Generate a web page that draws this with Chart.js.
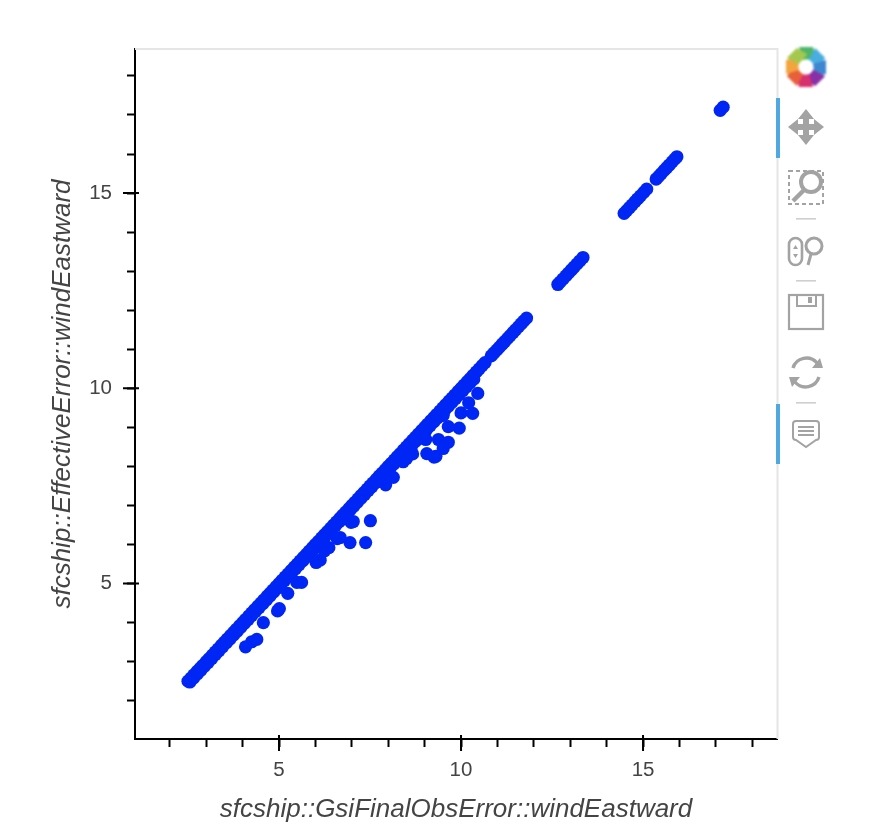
<!DOCTYPE html>
<html><head><meta charset="utf-8">
<style>
html,body{margin:0;padding:0;background:#fff;overflow:hidden}
#wrap{position:relative;width:888px;height:830px}
canvas{position:absolute;left:0;top:0}
#tools{position:absolute;left:0;top:0}
</style>
<script src="https://cdn.jsdelivr.net/npm/chart.js@4"></script>
</head><body>
<div id="wrap">
<canvas id="c" width="888" height="830"></canvas>
<svg id="tools" width="888" height="830" viewBox="0 0 888 830" fill="none">
  <!-- logo -->
  <g transform="translate(806 67)" style="filter:blur(1px)">
    <g transform="rotate(0)"><path d="M-7-20 L7-20 L10-8 L-3-7 Z" fill="#4db56a"/></g>
    <g transform="rotate(45)"><path d="M-7-20 L7-20 L10-8 L-3-7 Z" fill="#49ade0"/></g>
    <g transform="rotate(90)"><path d="M-7-20 L7-20 L10-8 L-3-7 Z" fill="#3e86cf"/></g>
    <g transform="rotate(135)"><path d="M-7-20 L7-20 L10-8 L-3-7 Z" fill="#8a2fa5"/></g>
    <g transform="rotate(180)"><path d="M-7-20 L7-20 L10-8 L-3-7 Z" fill="#d8306e"/></g>
    <g transform="rotate(225)"><path d="M-7-20 L7-20 L10-8 L-3-7 Z" fill="#e8603a"/></g>
    <g transform="rotate(270)"><path d="M-7-20 L7-20 L10-8 L-3-7 Z" fill="#f2a53f"/></g>
    <g transform="rotate(315)"><path d="M-7-20 L7-20 L10-8 L-3-7 Z" fill="#a4c84e"/></g>
    <circle r="7.5" fill="#fff"/>
  </g>
  <!-- active bars -->
  <rect x="776" y="98" width="4" height="60" fill="#4fa9e0"/>
  <rect x="776" y="404" width="4" height="60" fill="#4fa9e0"/>
  <!-- pan -->
  <path fill="#a3a3a3" d="M806 109 L814 119 L809 119 L809 124 L814 124 L814 119 L824 127 L814 135 L814 130 L809 130 L809 135 L814 135 L806 145 L798 135 L803 135 L803 130 L798 130 L798 135 L788 127 L798 119 L798 124 L803 124 L803 119 L798 119 Z"/>
  <!-- box zoom -->
  <rect x="789" y="171" width="34" height="33" stroke="#a3a3a3" stroke-width="2" stroke-dasharray="4 3"/>
  <circle cx="811" cy="182" r="10" stroke="#a3a3a3" stroke-width="4" fill="#fff"/>
  <path d="M804 190 L793 201" stroke="#a3a3a3" stroke-width="4.5"/>
  <rect x="796" y="218" width="20" height="1.6" fill="#cfcfcf"/>
  <!-- wheel zoom -->
  <rect x="789" y="238" width="13" height="27" rx="6.5" stroke="#a3a3a3" stroke-width="2.6"/>
  <path d="M795.5 245 L798 249 L793 249 Z M795.5 258 L798 254 L793 254 Z" fill="#a3a3a3"/>
  <circle cx="814" cy="246" r="8" stroke="#a3a3a3" stroke-width="3"/>
  <path d="M811 254 L808 265" stroke="#a3a3a3" stroke-width="3"/>
  <rect x="796" y="280" width="20" height="1.6" fill="#cfcfcf"/>
  <!-- save -->
  <rect x="789" y="295" width="34" height="34" stroke="#a3a3a3" stroke-width="2.2"/>
  <path d="M797 295 V306 H816 V295" stroke="#a3a3a3" stroke-width="2"/>
  <rect x="808" y="297" width="4" height="6" fill="#a3a3a3"/>
  <!-- reset -->
  <path d="M793 368 A14 14 0 0 1 817 363" stroke="#a3a3a3" stroke-width="3.4"/>
  <path d="M812 368 L823 368 L820 358 Z" fill="#a3a3a3"/>
  <path d="M819 377 A14 14 0 0 1 795 382" stroke="#a3a3a3" stroke-width="3.4"/>
  <path d="M789 377 L800 377 L792 387 Z" fill="#a3a3a3"/>
  <rect x="796" y="402" width="20" height="1.6" fill="#cfcfcf"/>
  <!-- hover -->
  <path d="M796 421 H816 Q819 421 819 424 V437 Q819 440 816 440 L806 447 L796 440 Q793 440 793 437 V424 Q793 421 796 421 Z" stroke="#a3a3a3" stroke-width="2"/>
  <path d="M798 427 H814 M798 431 H814 M798 435 H814" stroke="#a3a3a3" stroke-width="1.8"/>
</svg>
</div>
<script>
const xTickValues = [2,3,4,5,6,7,8,9,10,11,12,13,14,15,16,17,18];
const yTickValues = [2,3,4,5,6,7,8,9,10,11,12,13,14,15,16,17,18];
const labelledTicks = [5,10,15];
const xAxisTitle = "sfcship::GsiFinalObsError::windEastward";
const yAxisTitle = "sfcship::EffectiveError::windEastward";

const lineX = [2.5,2.58,2.66,2.75,2.83,2.9,3.0,3.08,3.17,3.25,3.33,3.42,3.5,3.58,3.67,3.75,3.83,3.92,4.0,4.08,4.17,4.25,4.33,4.42,4.5,4.58,4.67,4.75,4.83,4.92,5.0,5.08,5.17,5.25,5.33,5.42,5.5,5.58,5.67,5.75,5.83,5.92,6.0,6.08,6.17,6.25,6.33,6.42,6.5,6.58,6.67,6.75,6.83,6.92,7.0,7.08,7.17,7.25,7.33,7.42,7.5,7.58,7.67,7.75,7.83,7.92,8.0,8.08,8.17,8.25,8.33,8.42,8.5,8.58,8.67,8.75,8.83,8.92,9.0,9.08,9.17,9.25,9.33,9.42,9.5,9.58,9.67,9.75,9.83,9.92,10.0,10.08,10.17,10.25,10.33,10.42,10.5,10.58,10.66,10.83,10.9,10.98,11.05,11.13,11.2,11.28,11.35,11.43,11.5,11.58,11.65,11.72,11.8,12.66,12.72,12.8,12.88,12.95,13.03,13.1,13.18,13.26,13.35,14.48,14.55,14.63,14.7,14.78,14.85,14.93,15.02,15.1,15.36,15.43,15.5,15.58,15.65,15.72,15.8,15.87,15.93,17.12,17.2];
const lineY = [2.5,2.58,2.66,2.75,2.83,2.9,3.0,3.08,3.17,3.25,3.33,3.42,3.5,3.58,3.67,3.75,3.83,3.92,4.0,4.08,4.17,4.25,4.33,4.42,4.5,4.58,4.67,4.75,4.83,4.92,5.0,5.08,5.17,5.25,5.33,5.42,5.5,5.58,5.67,5.75,5.83,5.92,6.0,6.08,6.17,6.25,6.33,6.42,6.5,6.58,6.67,6.75,6.83,6.92,7.0,7.08,7.17,7.25,7.33,7.42,7.5,7.58,7.67,7.75,7.83,7.92,8.0,8.08,8.17,8.25,8.33,8.42,8.5,8.58,8.67,8.75,8.83,8.92,9.0,9.08,9.17,9.25,9.33,9.42,9.5,9.58,9.67,9.75,9.83,9.92,10.0,10.08,10.17,10.25,10.33,10.42,10.5,10.58,10.66,10.83,10.9,10.98,11.05,11.13,11.2,11.28,11.35,11.43,11.5,11.58,11.65,11.72,11.8,12.66,12.72,12.8,12.88,12.95,13.03,13.1,13.18,13.26,13.35,14.48,14.55,14.63,14.7,14.78,14.85,14.93,15.02,15.1,15.36,15.43,15.5,15.58,15.65,15.72,15.8,15.87,15.93,17.12,17.2];

const belowX = [2.55,2.65,2.75,2.85,2.95,3.05,3.15,3.25,3.35,3.45,3.55,3.65,3.75,3.85,3.95,4.05,4.15,4.25,4.35,4.45,4.55,4.65,4.75,4.85,4.95,5.05,5.15,5.25,5.35,5.45,5.55,5.65,5.75,5.85,5.95,6.05,6.15,6.25,6.35,6.45,6.55,6.65,6.75,6.85,6.95,7.05,7.15,7.25,7.35,7.45,7.55,7.65,7.75,7.85,7.95,8.05,8.15,8.25,8.35,8.45,8.55,8.65,8.75,8.85,8.95,9.05,9.15,9.25,9.35,9.45,9.55,9.65,9.75,9.85,9.95,10.05,10.15,10.25,10.35];
const belowY = [2.48,2.58,2.68,2.78,2.88,2.98,3.08,3.18,3.28,3.38,3.48,3.58,3.68,3.78,3.88,3.98,4.08,4.18,4.28,4.38,4.48,4.58,4.68,4.78,4.88,4.98,5.08,5.18,5.28,5.38,5.48,5.58,5.68,5.78,5.88,5.98,6.08,6.18,6.28,6.38,6.48,6.58,6.68,6.78,6.88,6.98,7.08,7.18,7.28,7.38,7.48,7.58,7.68,7.78,7.88,7.96,8.06,8.15,8.25,8.35,8.44,8.54,8.64,8.74,8.84,8.94,9.04,9.14,9.24,9.34,9.44,9.54,9.64,9.74,9.84,9.94,10.04,10.14,10.24];

const outlierX = [10.46,10.21,10.0,10.32,9.95,9.65,9.51,9.38,9.65,9.51,9.03,9.06,9.31,9.26,8.67,8.41,8.5,8.14,7.93,7.04,6.98,7.51,6.68,6.6,6.95,7.38,6.37,6.25,6.13,6.02,5.62,5.49,5.24,5.01,4.96,4.57,4.39,4.25,4.08];
const outlierY = [9.87,9.63,9.37,9.36,8.98,9.02,9.31,8.69,8.62,8.46,8.69,8.33,8.26,8.24,8.32,8.12,8.2,7.72,7.53,6.59,6.57,6.61,6.18,6.15,6.05,6.05,5.92,5.84,5.6,5.54,5.03,5.03,4.75,4.36,4.3,4.0,3.57,3.51,3.38];

const toPoints = (xs, ys) => xs.map((x, i) => ({x, y: ys[i]}));
const points = [...toPoints(lineX, lineY), ...toPoints(belowX, belowY), ...toPoints(outlierX, outlierY)];

const axisColor = "#000";
const textColor = "#444";
const frameColor = "#e5e5e5";

const framePlugin = {
  id: "frame",
  beforeDatasetsDraw(chart) {
    const {ctx, chartArea: a} = chart;
    ctx.save();
    ctx.strokeStyle = frameColor;
    ctx.lineWidth = 2;
    ctx.beginPath();
    ctx.moveTo(a.left, a.top);
    ctx.lineTo(a.right + 0.5, a.top);
    ctx.lineTo(a.right + 0.5, a.bottom);
    ctx.stroke();
    ctx.restore();
  },
  afterDatasetsDraw(chart) {
    const {ctx, scales: {x, y}, chartArea: a} = chart;
    ctx.save();
    ctx.strokeStyle = axisColor;
    ctx.lineWidth = 2;
    ctx.beginPath();
    labelledTicks.forEach(v => {
      const px = x.getPixelForValue(v);
      ctx.moveTo(px, a.bottom - 4); ctx.lineTo(px, a.bottom + 12);
      const py = y.getPixelForValue(v);
      ctx.moveTo(a.left + 4, py); ctx.lineTo(a.left - 12, py);
    });
    ctx.stroke();
    ctx.restore();
  }
};

new Chart(document.getElementById("c"), {
  type: "scatter",
  data: { datasets: [{ data: points, backgroundColor: "#0026f5", borderWidth: 0, pointRadius: 6.6, pointHoverRadius: 6.6 }] },
  plugins: [framePlugin],
  options: {
    responsive: false,
    animation: false,
    clip: false,
    layout: { padding: { top: 49, right: 111, left: 0, bottom: 0 } },
    plugins: { legend: { display: false }, tooltip: { enabled: false } },
    scales: {
      x: {
        type: "linear", min: 1.044, max: 18.68,
        afterFit(s) { s.height = 91; },
        afterBuildTicks(s) { s.ticks = xTickValues.map(value => ({value})); },
        border: { color: axisColor, width: 2 },
        grid: { drawOnChartArea: false, tickLength: 8, tickColor: axisColor, tickWidth: 2 },
        ticks: { color: textColor, font: { family: "Liberation Sans", size: 20.5 }, padding: 11, maxRotation: 0, autoSkip: false,
          callback: v => labelledTicks.includes(v) ? String(v) : "" },
        title: { display: true, text: xAxisTitle, color: textColor, font: { family: "Liberation Sans", size: 26, style: "italic" }, padding: { top: 8, bottom: 5 } }
      },
      y: {
        type: "linear", min: 1.02, max: 18.69,
        afterFit(s) { s.width = 135; },
        afterBuildTicks(s) { s.ticks = yTickValues.map(value => ({value})); },
        border: { color: axisColor, width: 2 },
        grid: { drawOnChartArea: false, tickLength: 8, tickColor: axisColor, tickWidth: 2 },
        ticks: { color: textColor, font: { family: "Liberation Sans", size: 20.5 }, padding: 15, autoSkip: false,
          callback: v => labelledTicks.includes(v) ? String(v) : "" },
        title: { display: true, text: yAxisTitle, color: textColor, font: { family: "Liberation Sans", size: 26, style: "italic" }, padding: { top: 47, bottom: 0 } }
      }
    }
  }
});
</script>
</body></html>
